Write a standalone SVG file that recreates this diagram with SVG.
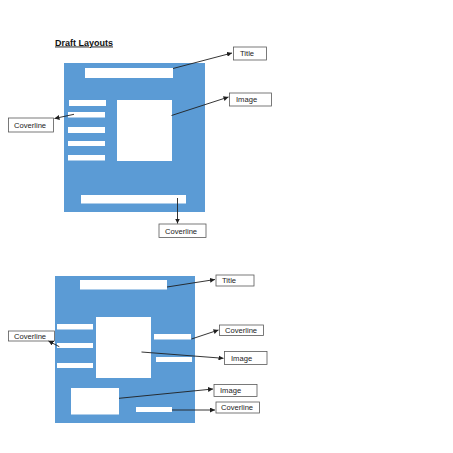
<svg xmlns="http://www.w3.org/2000/svg" width="453" height="453" viewBox="0 0 453 453">
<style>
.panel{fill:#5B9BD5}
.blk{fill:#FFFFFF}
.lbl rect{fill:#FFFFFF;stroke:#595959;stroke-width:0.8}
.lbl text{font-family:"Liberation Sans",Arial,sans-serif;font-size:7.6px;fill:#222222}
.con line{stroke:#1F1F1F;stroke-width:0.9;marker-end:url(#ah)}
.ttl{font-family:"Liberation Sans",Arial,sans-serif;font-size:9px;font-weight:bold;fill:#111;text-decoration:underline}
</style>
<defs>
<marker id="ah" markerUnits="userSpaceOnUse" markerWidth="6" markerHeight="5" refX="5" refY="2.5" orient="auto">
<path d="M0,0 L5,2.5 L0,5 Z" fill="#1F1F1F"/>
</marker>
</defs>
<rect width="453" height="453" fill="#FFFFFF"/>
<text class="ttl" x="55" y="45.5">Draft Layouts</text>

<g id="layout1">
<rect class="panel" x="64" y="63" width="141" height="149"/>
<rect class="blk" x="85" y="68" width="88" height="10"/>
<rect class="blk" x="69" y="100" width="37" height="6"/>
<rect class="blk" x="68" y="112" width="37" height="5.5"/>
<rect class="blk" x="68" y="127" width="37" height="6"/>
<rect class="blk" x="68" y="141" width="37" height="5"/>
<rect class="blk" x="68" y="155" width="37" height="5.5"/>
<rect class="blk" x="117" y="100" width="55" height="61"/>
<rect class="blk" x="81" y="195" width="105" height="8.5"/>
</g>

<g id="layout2">
<rect class="panel" x="55" y="276" width="140" height="147"/>
<rect class="blk" x="80" y="280" width="87" height="9.5"/>
<rect class="blk" x="57" y="324" width="36" height="5.5"/>
<rect class="blk" x="57" y="343" width="36" height="5"/>
<rect class="blk" x="57" y="363" width="36" height="5"/>
<rect class="blk" x="96" y="317" width="55" height="61"/>
<rect class="blk" x="154" y="334" width="37" height="5.5"/>
<rect class="blk" x="156" y="357" width="36" height="5"/>
<rect class="blk" x="71" y="388" width="48" height="26.5"/>
<rect class="blk" x="136" y="407" width="36" height="5"/>
</g>

<g id="label-title1" class="lbl"><rect x="233.5" y="47" width="33" height="13"/><text x="240" y="56">Title</text></g>
<g id="label-image1" class="lbl"><rect x="229.5" y="93" width="42" height="13"/><text x="236" y="102">Image</text></g>
<g id="label-coverline1a" class="lbl"><rect x="8.5" y="118" width="45" height="14"/><text x="14" y="127.5">Coverline</text></g>
<g id="label-coverline1b" class="lbl"><rect x="159" y="224" width="47" height="13.5"/><text x="165" y="233.5">Coverline</text></g>

<g id="label-title2" class="lbl"><rect x="216" y="275" width="38" height="11"/><text x="222" y="283.2">Title</text></g>
<g id="label-coverline2a" class="lbl"><rect x="8.5" y="331" width="46" height="10"/><text x="14" y="338.6">Coverline</text></g>
<g id="label-coverline2b" class="lbl"><rect x="219.5" y="325" width="44" height="10.5"/><text x="225" y="333">Coverline</text></g>
<g id="label-image2a" class="lbl"><rect x="224.5" y="351.5" width="42.5" height="13"/><text x="231" y="360.5">Image</text></g>
<g id="label-image2b" class="lbl"><rect x="214" y="384.5" width="43" height="12"/><text x="220" y="393">Image</text></g>
<g id="label-coverline2c" class="lbl"><rect x="216" y="402" width="43.5" height="11"/><text x="221" y="410.3">Coverline</text></g>

<g id="connectors" class="con">
<line x1="173" y1="68.5" x2="232" y2="53"/>
<line x1="171.5" y1="115.5" x2="228.5" y2="97"/>
<line x1="74" y1="114.3" x2="54.5" y2="118.5"/>
<line x1="177.5" y1="198" x2="177.5" y2="223.5"/>
<line x1="167" y1="287" x2="215" y2="279.5"/>
<line x1="191.5" y1="339" x2="218.5" y2="330"/>
<line x1="141.5" y1="352" x2="223.5" y2="358.3"/>
<line x1="119" y1="398.3" x2="213" y2="389"/>
<line x1="172" y1="410" x2="215" y2="410"/>
<line x1="59.3" y1="346.7" x2="48.5" y2="341"/>
</g>
</svg>
